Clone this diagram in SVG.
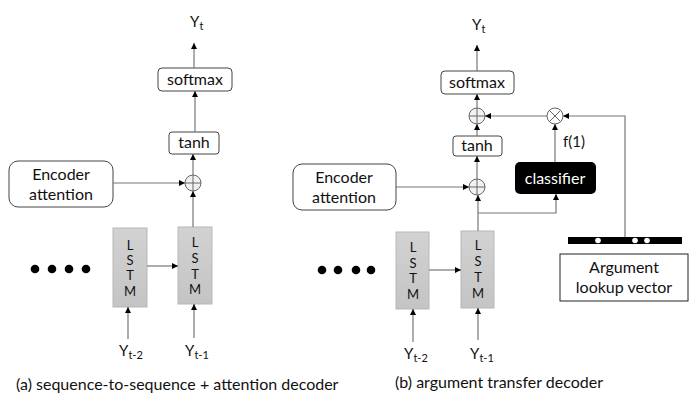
<svg xmlns="http://www.w3.org/2000/svg" width="700" height="408" viewBox="0 0 700 408">
<defs>
<marker id="ah" viewBox="0 0 6 6" refX="6" refY="3" markerWidth="6" markerHeight="6" markerUnits="userSpaceOnUse" orient="auto">
<path d="M0,0 L6,3 L0,6 z" fill="#000"/>
</marker>
<linearGradient id="lg" x1="0" y1="0" x2="0" y2="1">
<stop offset="0" stop-color="#d2d2d2"/>
<stop offset="1" stop-color="#c4c4c4"/>
</linearGradient>
</defs>
<style>
text{font-family:Lato,"Open Sans","Liberation Sans",sans-serif;fill:#111}
.box{fill:#fff;stroke:#444;stroke-width:1}
.lstm{fill:url(#lg);stroke:#b8b8b8;stroke-width:1}
.ar{fill:none;stroke:#777;stroke-width:1.2;marker-end:url(#ah)}
.op{fill:#f2f2f2;stroke:#666;stroke-width:1}
.t15{font-size:16px}
.t14{font-size:15px}
.t12{font-size:13px}
.sub{font-size:11px}
.dot{fill:#000}
</style>

<!-- ===== Left diagram (a) ===== -->
<g id="a-yt"><text x="190" y="27" class="t14">Y<tspan class="sub" dy="3">t</tspan></text></g>
<g id="a-softmax"><rect class="box" x="158" y="68" width="74" height="23" rx="4"/><text x="195" y="85" class="t15" text-anchor="middle">softmax</text></g>
<g id="a-tanh"><rect class="box" x="169" y="132" width="50" height="22" rx="3"/><text x="194" y="148" class="t15" text-anchor="middle">tanh</text></g>
<g id="a-plus"><circle class="op" cx="193" cy="183" r="8"/><path d="M185,183 H201 M193,175 V191" stroke="#666" stroke-width="1"/></g>
<g id="a-encoder"><rect class="box" x="9" y="161" width="104" height="46" rx="9"/><text x="61" y="180" class="t15" text-anchor="middle">Encoder</text><text x="61" y="200" class="t15" text-anchor="middle">attention</text></g>
<g id="a-lstm1"><rect class="lstm" x="113" y="228" width="34" height="79"/>
<text x="130" y="250" class="t12" text-anchor="middle">L</text><text x="130" y="265" class="t12" text-anchor="middle">S</text><text x="130" y="280" class="t12" text-anchor="middle">T</text><text x="130" y="296" class="t12" text-anchor="middle">M</text></g>
<g id="a-lstm2"><rect class="lstm" x="178" y="227" width="34" height="77"/>
<text x="195" y="247" class="t12" text-anchor="middle">L</text><text x="195" y="263" class="t12" text-anchor="middle">S</text><text x="195" y="279" class="t12" text-anchor="middle">T</text><text x="195" y="294" class="t12" text-anchor="middle">M</text></g>
<g id="a-dots"><circle class="dot" cx="35" cy="269" r="4.3"/><circle class="dot" cx="52" cy="269" r="4.3"/><circle class="dot" cx="69" cy="269" r="4.3"/><circle class="dot" cx="86" cy="269" r="4.3"/></g>
<g id="a-ytm2"><text x="119" y="356" class="t14">Y<tspan class="sub" dy="3">t-2</tspan></text></g>
<g id="a-ytm1"><text x="185" y="356" class="t14">Y<tspan class="sub" dy="3">t-1</tspan></text></g>
<g id="a-caption"><text x="16" y="390" class="t15">(a) sequence-to-sequence + attention decoder</text></g>

<!-- ===== Right diagram (b) ===== -->
<g id="b-yt"><text x="472" y="30" class="t14">Y<tspan class="sub" dy="3">t</tspan></text></g>
<g id="b-softmax"><rect class="box" x="441" y="71" width="73" height="23" rx="4"/><text x="477" y="88" class="t15" text-anchor="middle">softmax</text></g>
<g id="b-plus1"><circle class="op" cx="477" cy="116" r="8"/><path d="M469,116 H485 M477,108 V124" stroke="#666" stroke-width="1"/></g>
<g id="b-times"><circle cx="555" cy="116" r="8" fill="#fff" stroke="#666" stroke-width="1"/><path d="M549.3,110.3 L560.7,121.7 M560.7,110.3 L549.3,121.7" stroke="#666" stroke-width="1"/></g>
<g id="b-tanh"><rect class="box" x="453" y="136" width="49" height="20" rx="3"/><text x="477" y="151" class="t15" text-anchor="middle">tanh</text></g>
<g id="b-f1"><text x="563" y="147" class="t14">f(1)</text></g>
<g id="b-classifier"><rect x="515" y="162" width="81" height="32" rx="5" fill="#000"/><text x="555" y="184" class="t15" text-anchor="middle" style="fill:#fff">classifier</text></g>
<g id="b-encoder"><rect class="box" x="293" y="164" width="103" height="46" rx="9"/><text x="344" y="183" class="t15" text-anchor="middle">Encoder</text><text x="344" y="203" class="t15" text-anchor="middle">attention</text></g>
<g id="b-plus2"><circle class="op" cx="477" cy="187" r="8"/><path d="M469,187 H485 M477,179 V195" stroke="#666" stroke-width="1"/></g>
<g id="b-lstm1"><rect class="lstm" x="396" y="232" width="33" height="77"/>
<text x="413" y="252" class="t12" text-anchor="middle">L</text><text x="413" y="268" class="t12" text-anchor="middle">S</text><text x="413" y="283" class="t12" text-anchor="middle">T</text><text x="413" y="299" class="t12" text-anchor="middle">M</text></g>
<g id="b-lstm2"><rect class="lstm" x="461" y="231" width="33" height="77"/>
<text x="478" y="250" class="t12" text-anchor="middle">L</text><text x="478" y="266" class="t12" text-anchor="middle">S</text><text x="478" y="282" class="t12" text-anchor="middle">T</text><text x="478" y="298" class="t12" text-anchor="middle">M</text></g>
<g id="b-dots"><circle class="dot" cx="322" cy="270" r="4.3"/><circle class="dot" cx="338" cy="270" r="4.3"/><circle class="dot" cx="356" cy="270" r="4.3"/><circle class="dot" cx="371" cy="270" r="4.3"/></g>
<g id="b-bar"><rect x="568" y="237" width="114" height="7" fill="#000"/><circle cx="598" cy="240.5" r="2.8" fill="#fff"/><circle cx="635" cy="240.5" r="2.8" fill="#fff"/><circle cx="647" cy="240.5" r="2.8" fill="#fff"/></g>
<g id="b-lookup"><rect x="560" y="254" width="128" height="47" fill="#fff" stroke="#222" stroke-width="1"/><text x="624" y="273" class="t15" text-anchor="middle">Argument</text><text x="624" y="293" class="t15" text-anchor="middle">lookup vector</text></g>
<g id="b-ytm2"><text x="404" y="359" class="t14">Y<tspan class="sub" dy="3">t-2</tspan></text></g>
<g id="b-ytm1"><text x="470" y="359" class="t14">Y<tspan class="sub" dy="3">t-1</tspan></text></g>
<g id="b-caption"><text x="395" y="388" class="t15">(b) argument transfer decoder</text></g>

<!-- ===== Connectors ===== -->
<g id="connectors">
<path class="ar" d="M194,68 V43"/>
<path class="ar" d="M195,132 V91"/>
<path class="ar" d="M193,175 V154"/>
<path class="ar" d="M113,183 H185"/>
<path class="ar" d="M193,227 V191"/>
<path class="ar" d="M147,266 H178"/>
<path class="ar" d="M128,339 V307"/>
<path class="ar" d="M194,338 V304"/>

<path class="ar" d="M477,71 V45"/>
<path class="ar" d="M477,108 V94"/>
<path class="ar" d="M477,136 V124"/>
<path class="ar" d="M547,116 H485"/>
<path class="ar" d="M625,237 V116 H563"/>
<path class="ar" d="M555,162 V124"/>
<path class="ar" d="M477,179 V156"/>
<path class="ar" d="M396,187 H469"/>
<path class="ar" d="M478,231 V195"/>
<path class="ar" d="M478,213 H556 V194"/>
<path class="ar" d="M429,270 H461"/>
<path class="ar" d="M413,342 V309"/>
<path class="ar" d="M478,340 V308"/>
</g>
</svg>
